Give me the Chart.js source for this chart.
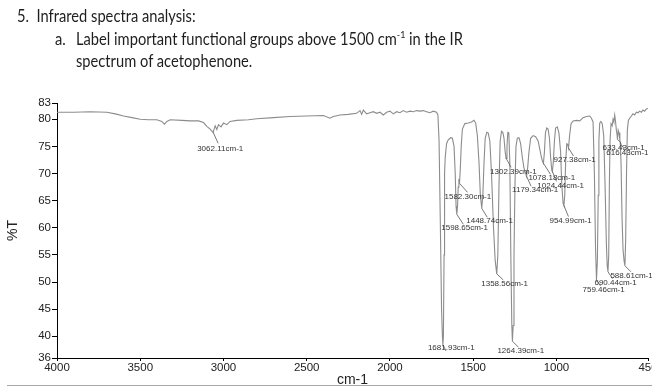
<!DOCTYPE html>
<html lang="en">
<head>
    <meta charset="UTF-8">
    <title>IR spectrum of acetophenone</title>
    <style>
        body {
            margin: 0;
            background: #fff;
            font-family: Lato, "Noto Sans", sans-serif;
            color: #1e1e1e;
        }
        .page {
            position: relative;
            width: 652px;
            height: 391px;
            overflow: hidden;
        }
        .line {
            position: absolute;
            white-space: nowrap;
            font-size: 16.5px;
            line-height: 22px;
            transform: scaleX(0.89);
            transform-origin: 0 0;
        }
        .line sup {
            font-size: 10px;
            line-height: 0;
            vertical-align: 7px;
        }
        .chart-box {
            position: absolute;
            left: 0;
            top: 0;
            width: 652px;
            height: 391px;
        }
        .rule {
            position: absolute;
            left: 7px;
            right: 0;
            top: 385px;
            height: 1px;
            background: #a8a8a8;
        }
    </style>
    <script src="https://cdn.jsdelivr.net/npm/chart.js"></script>
</head>
<body>
<div class="page">
    <div class="rule"></div>
    <div class="chart-box"><canvas id="irChart"></canvas></div>
    <div class="line" style="left:17px; top:5px;">5.&nbsp;&nbsp;Infrared spectra analysis:</div>
    <div class="line" style="left:55px; top:28px;">a.</div>
    <div class="line" style="left:76px; top:28px;">Label important functional groups above 1500 cm<sup>-1</sup> in the IR</div>
    <div class="line" style="left:76px; top:50px;">spectrum of acetophenone.</div>
</div>
<script>
    // spectrum (cm-1 / %T)
    const wavenumbers = [
        4000, 3900, 3800, 3700, 3650, 3600, 3550, 3500, 3450, 3400, 3370, 3355, 3340, 3320,
        3250, 3200, 3150, 3120, 3100, 3080, 3062.11, 3050, 3040, 3030, 3015, 3000, 2980, 2960,
        2920, 2850, 2800, 2700, 2600, 2500, 2400, 2360, 2340, 2300, 2250, 2200, 2180, 2170,
        2160, 2140, 2120, 2100, 2080, 2060, 2040, 2020, 2000, 1980, 1960, 1940, 1920, 1900,
        1880, 1860, 1840, 1820, 1800, 1780, 1760, 1740, 1720, 1712, 1705, 1698, 1690, 1685,
        1681.93, 1679, 1675, 1672, 1668, 1660, 1650, 1635, 1625, 1615, 1608, 1603, 1598.65, 1594,
        1590, 1586, 1582.30, 1578, 1572, 1565, 1550, 1530, 1510, 1495, 1485, 1475, 1465, 1457,
        1448.74, 1442, 1435, 1428, 1418, 1410, 1400, 1390, 1378, 1368, 1358.56, 1352, 1345, 1338,
        1330, 1322, 1315, 1308, 1302.39, 1297, 1292, 1286, 1280, 1274, 1268, 1264.39, 1260, 1255,
        1249, 1243, 1235, 1225, 1215, 1205, 1195, 1185, 1179.34, 1173, 1165, 1155, 1140, 1125,
        1110, 1100, 1090, 1083, 1078.18, 1072, 1066, 1058, 1050, 1042, 1035, 1028, 1024.44, 1019,
        1012, 1005, 995, 985, 975, 968, 960, 954.99, 950, 945, 938, 933, 927.38, 921,
        912, 900, 880, 860, 840, 820, 800, 790, 780, 772, 765, 759.46, 754, 749,
        745, 740, 733, 725, 716, 708, 700, 695, 690.44, 686, 682, 678, 672, 665,
        660, 655, 650, 645, 640, 636, 633.43, 629, 624, 619, 616.43, 612, 606, 600,
        594, 588.61, 584, 579, 574, 568, 560, 550, 540, 530, 520, 510, 500, 490,
        480, 470, 460, 450
    ];
    const transmittance = [
        81.3, 81.3, 81.4, 81.3, 81.0, 80.6, 80.3, 80.0, 79.9, 79.9, 79.6, 79.1, 79.6, 79.9,
        79.8, 79.7, 79.7, 79.4, 78.7, 78.2, 77.6, 78.8, 78.1, 79.0, 78.6, 79.3, 79.0, 79.6,
        79.8, 79.9, 80.1, 80.3, 80.5, 80.6, 80.7, 80.2, 80.5, 80.8, 80.9, 81.1, 81.6, 80.9,
        81.7, 81.0, 81.2, 81.4, 81.1, 81.3, 80.8, 81.3, 81.5, 81.0, 81.4, 81.2, 81.6, 81.3,
        81.5, 81.4, 81.6, 81.5, 81.6, 81.4, 81.2, 81.5, 81.3, 80.8, 76.0, 62.0, 45.0, 40.0,
        38.5, 40.0, 55.0, 70.0, 73.0, 75.5, 76.2, 76.6, 76.5, 75.0, 70.0, 64.0, 62.5, 64.0,
        67.5, 69.0, 68.2, 70.5, 75.0, 78.2, 79.2, 79.3, 79.5, 79.8, 79.3, 77.0, 72.0, 66.0,
        63.6, 66.0, 72.0, 76.5, 77.6, 77.5, 76.0, 70.0, 60.0, 54.0, 51.5, 55.0, 68.0, 76.0,
        77.8, 77.6, 76.5, 74.0, 72.8, 75.0, 77.6, 77.5, 72.0, 55.0, 42.0, 39.1, 42.0, 55.0,
        68.0, 75.0, 76.5, 76.6, 75.5, 73.0, 71.0, 70.0, 69.5, 71.0, 74.0, 76.5, 77.0, 76.8,
        76.0, 74.5, 73.0, 72.2, 71.9, 74.0, 77.5, 78.4, 78.2, 76.5, 73.0, 70.6, 70.4, 72.0,
        76.0, 78.4, 78.6, 77.5, 74.0, 68.0, 64.5, 64.1, 66.0, 72.0, 75.5, 75.4, 74.7, 77.0,
        79.2, 79.7, 79.8, 79.7, 80.3, 80.5, 80.6, 80.2, 79.5, 70.0, 56.0, 50.4, 54.0, 66.0,
        76.0, 79.3, 79.6, 79.2, 77.0, 68.0, 57.0, 53.0, 51.9, 55.0, 68.0, 76.0, 79.2, 78.8,
        80.0, 79.5, 80.8, 79.6, 78.0, 77.2, 76.3, 78.0, 77.5, 76.1, 75.6, 72.0, 62.0, 56.0,
        54.0, 53.0, 58.0, 70.0, 78.0, 79.8, 80.2, 80.6, 81.0, 80.8, 81.3, 81.2, 81.5, 81.3,
        81.7, 81.5, 81.9, 82.0
    ];

    // labelled bands
    const peakLabels = [
        '3062.11cm-1', '1681.93cm-1', '1598.65cm-1', '1582.30cm-1', '1448.74cm-1', '1358.56cm-1',
        '1302.39cm-1', '1264.39cm-1', '1179.34cm-1', '1078.18cm-1', '1024.44cm-1', '954.99cm-1',
        '927.38cm-1', '759.46cm-1', '690.44cm-1', '633.43cm-1', '616.43cm-1', '588.61cm-1'
    ];
    const peakT = [77.6, 38.5, 62.5, 68.2, 63.6, 51.5, 72.8, 39.1, 69.5, 71.9, 70.4, 64.1, 74.7, 50.4, 51.9, 76.3, 75.6, 53.0];

    const xTicks = [4000, 3500, 3000, 2500, 2000, 1500, 1000, 450];
    const yTicks = [36, 40, 45, 50, 55, 60, 65, 70, 75, 80, 83];

    // where each label sits relative to its band: [leader dx, leader dy, text dx, text dy] in px
    const labelOffsets = [
        [5, 11, -16, 16], [3, 6.5, -15, 3.5], [6.5, 10, -15.5, 14], [8, 9, -15, 13],
        [5.5, 9, -15.5, 13], [6.5, 6, -15.5, 10], [5, 9, -16, 13], [6, 6, -15, 10],
        [4.5, 10, -14.5, 14], [7, 11, -15, 15], [4, 10, -15, 14], [4.5, 11, -14.5, 15],
        [5, 8, -15, 12], [4, 6, -14, 10], [4.5, 7, -13.5, 11], [4, 4, -15, 8],
        [4, 6, -14, 10], [6, 6, -14.5, 10]
    ];

    const peakLabelPlugin = {
        id: 'peakLabels',
        afterDatasetsDraw(chart) {
            const ctx = chart.ctx;
            const xs = chart.scales.x;
            const ys = chart.scales.y;
            ctx.save();
            ctx.font = '8px "Liberation Sans", Arial, sans-serif';
            ctx.textBaseline = 'middle';
            ctx.textAlign = 'left';
            peakLabels.forEach((label, i) => {
                const px = xs.getPixelForValue(parseFloat(label));
                const py = ys.getPixelForValue(peakT[i]);
                const o = labelOffsets[i];
                ctx.strokeStyle = '#555';
                ctx.lineWidth = 0.8;
                ctx.beginPath();
                ctx.moveTo(px, py);
                ctx.lineTo(px + o[0], py + o[1]);
                ctx.stroke();
                ctx.fillStyle = '#333';
                ctx.fillText(label, px + o[2], py + o[3]);
            });
            ctx.restore();
        }
    };

    const tickFont = { family: '"Liberation Sans", Arial, sans-serif', size: 11.5 };

    new Chart(document.getElementById('irChart'), {
        type: 'line',
        data: {
            datasets: [{
                data: wavenumbers.map((w, i) => ({ x: w, y: transmittance[i] })),
                borderColor: '#8c8c8c',
                borderWidth: 1.1,
                pointRadius: 0,
                tension: 0,
                fill: false
            }]
        },
        options: {
            responsive: true,
            maintainAspectRatio: false,
            animation: false,
            layout: { padding: { top: 103, right: 4, bottom: 0, left: 0 } },
            plugins: { legend: { display: false }, tooltip: { enabled: false } },
            scales: {
                x: {
                    type: 'linear',
                    reverse: true,
                    min: 450,
                    max: 4000,
                    afterBuildTicks: s => { s.ticks = xTicks.map(v => ({ value: v })); },
                    afterFit: s => { s.height = 33; s.paddingLeft = 0; s.paddingRight = 0; },
                    grid: { display: true, drawOnChartArea: false, drawTicks: true, tickLength: 3, color: '#000' },
                    border: { display: true, color: '#000', width: 1 },
                    ticks: {
                        color: '#222', font: tickFont, padding: 0, maxRotation: 0, autoSkip: false,
                        callback: v => String(v)
                    },
                    title: {
                        display: true,
                        text: 'cm-1',
                        color: '#222',
                        font: { family: '"Liberation Sans", Arial, sans-serif', size: 14 },
                        padding: { top: 0, bottom: 2 }
                    }
                },
                y: {
                    min: 36,
                    max: 83,
                    afterBuildTicks: s => { s.ticks = yTicks.map(v => ({ value: v })); },
                    afterFit: s => { s.width = 57; s.paddingTop = 0; s.paddingBottom = 0; },
                    grid: { display: true, drawOnChartArea: false, drawTicks: true, tickLength: 5, color: '#000' },
                    border: { display: true, color: '#000', width: 1 },
                    ticks: { color: '#222', font: tickFont, padding: 1, autoSkip: false },
                    title: {
                        display: true,
                        text: '%T',
                        color: '#222',
                        font: { family: '"Liberation Sans", Arial, sans-serif', size: 14 },
                        padding: { top: 5, bottom: 0 }
                    }
                }
            }
        },
        plugins: [peakLabelPlugin]
    });
</script>
</body>
</html>
